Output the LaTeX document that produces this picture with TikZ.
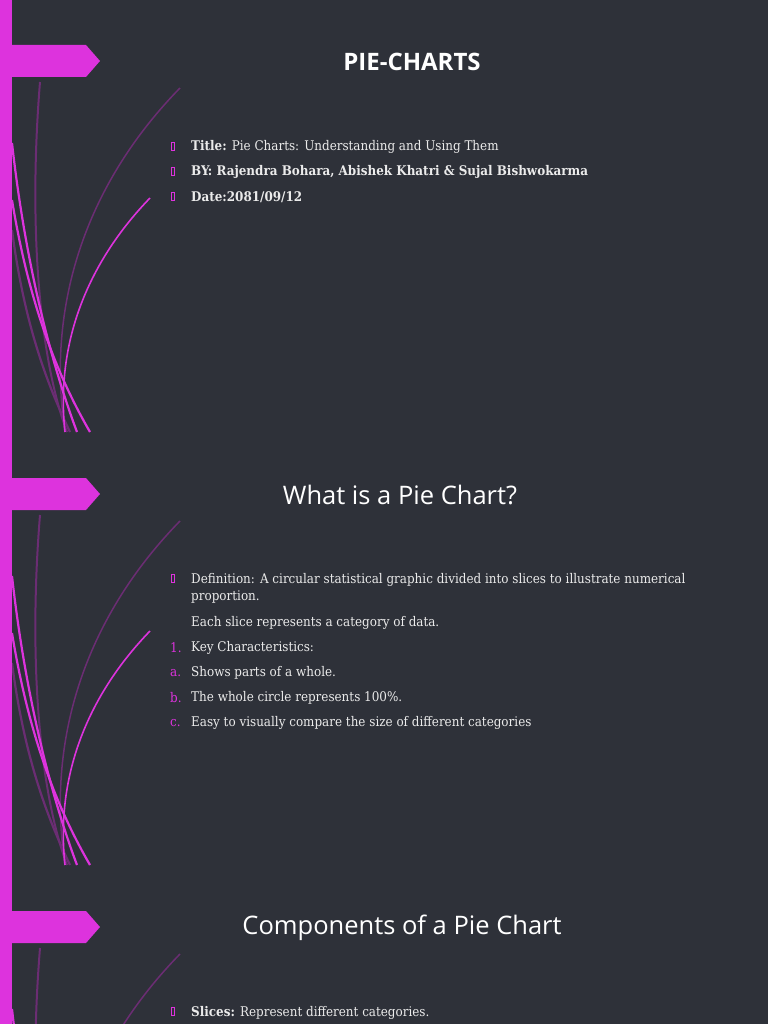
\documentclass[tikz,border=0pt]{standalone}
\usepackage{fontspec}
\setmainfont{DejaVu Serif Condensed}
\newfontfamily\titlefont{Open Sans}
\definecolor{bg}{HTML}{2E3139}
\definecolor{mag}{HTML}{DD33DD}
\definecolor{dpur}{HTML}{6B2D73}
\tikzset{
  body/.style={anchor=west, text=white!92!black, font=\fontsize{13.3}{16}\selectfont, inner sep=0, align=left},
  bul/.style={draw=mag, line width=0.8pt, minimum width=3.5pt, minimum height=8pt, inner sep=0},
  num/.style={anchor=west, text=mag, font=\fontsize{13.3}{16}\selectfont, inner sep=0},
  ttl/.style={text=white, inner sep=0}
}
\newcommand{\slidedeco}[1]{%
  \begin{scope}[yshift=#1]
  \draw[gray!60!bg, line width=0.6pt] (0,0.5) -- (12,0.5);
  \fill[mag] (11,45) -- (86,45) -- (100,61) -- (86,77) -- (11,77) -- cycle;
  \draw[dpur, line width=2pt] (40,82) .. controls (28,230) and (40,360) .. (67,432);
  \draw[dpur, line width=2.2pt] (12,230) .. controls (25,330) and (50,390) .. (70,432);
  \draw[dpur, line width=1.5pt] (180,88) .. controls (90,180) and (45,300) .. (65,432);
  \draw[mag, line width=2.2pt] (12,143) .. controls (25,260) and (50,360) .. (77,432);
  \draw[mag, line width=2.2pt] (12,200) .. controls (30,310) and (60,380) .. (90,432);
  \draw[mag, line width=1.6pt] (150,198) .. controls (90,260) and (55,340) .. (65,432);
  \end{scope}}
\begin{document}
\begin{tikzpicture}[x=1pt,y=-1pt]
\fill[bg] (0,0) rectangle (768,1024);
\useasboundingbox (0,0) rectangle (768,1024);
\slidedeco{0}
\slidedeco{-433}
\slidedeco{-866}
\fill[mag] (0,0) rectangle (11.5,1024);
% slide 1
\node[ttl, font=\titlefont\bfseries\fontsize{24}{28}\selectfont] (t1) at (412,62) {PIE-CHARTS};
\node[bul] (b11) at (173,146) {};
\node[body] (s11) at (191,147) {\textbf{Title:} Pie Charts: Understanding and Using Them};
\node[bul] (b12) at (173,171) {};
\node[body] (s12) at (191,172) {\textbf{BY: Rajendra Bohara, Abishek Khatri \& Sujal Bishwokarma}};
\node[bul] (b13) at (173,196) {};
\node[body] (s13) at (191,197) {\textbf{Date:2081/09/12}};
% slide 2
\node[ttl, font=\titlefont\fontsize{25.5}{30}\selectfont] (t2) at (400,495) {What is a Pie Chart?};
\node[bul] (b21) at (173,578) {};
\node[body, anchor=north west] (s21) at (191,573) {Definition: A circular statistical graphic divided into slices to illustrate numerical\\[1pt]proportion.};
\node[body] (s22) at (191,623) {Each slice represents a category of data.};
\node[num] (n1) at (170,648) {1.};
\node[body] (s23) at (191,648) {Key Characteristics:};
\node[num] (na) at (170,673) {a.};
\node[body] (s24) at (191,673) {Shows parts of a whole.};
\node[num] (nb) at (170,698) {b.};
\node[body] (s25) at (191,698) {The whole circle represents 100\%.};
\node[num] (nc) at (170,723) {c.};
\node[body] (s26) at (191,723) {Easy to visually compare the size of different categories};
% slide 3
\node[ttl, font=\titlefont\fontsize{25.5}{30}\selectfont] (t3) at (402,928) {Components of a Pie Chart};
\node[bul] (b31) at (173,1011) {};
\node[body] (s31) at (191,1013) {\textbf{Slices:} Represent different categories.};
\end{tikzpicture}
\end{document}
